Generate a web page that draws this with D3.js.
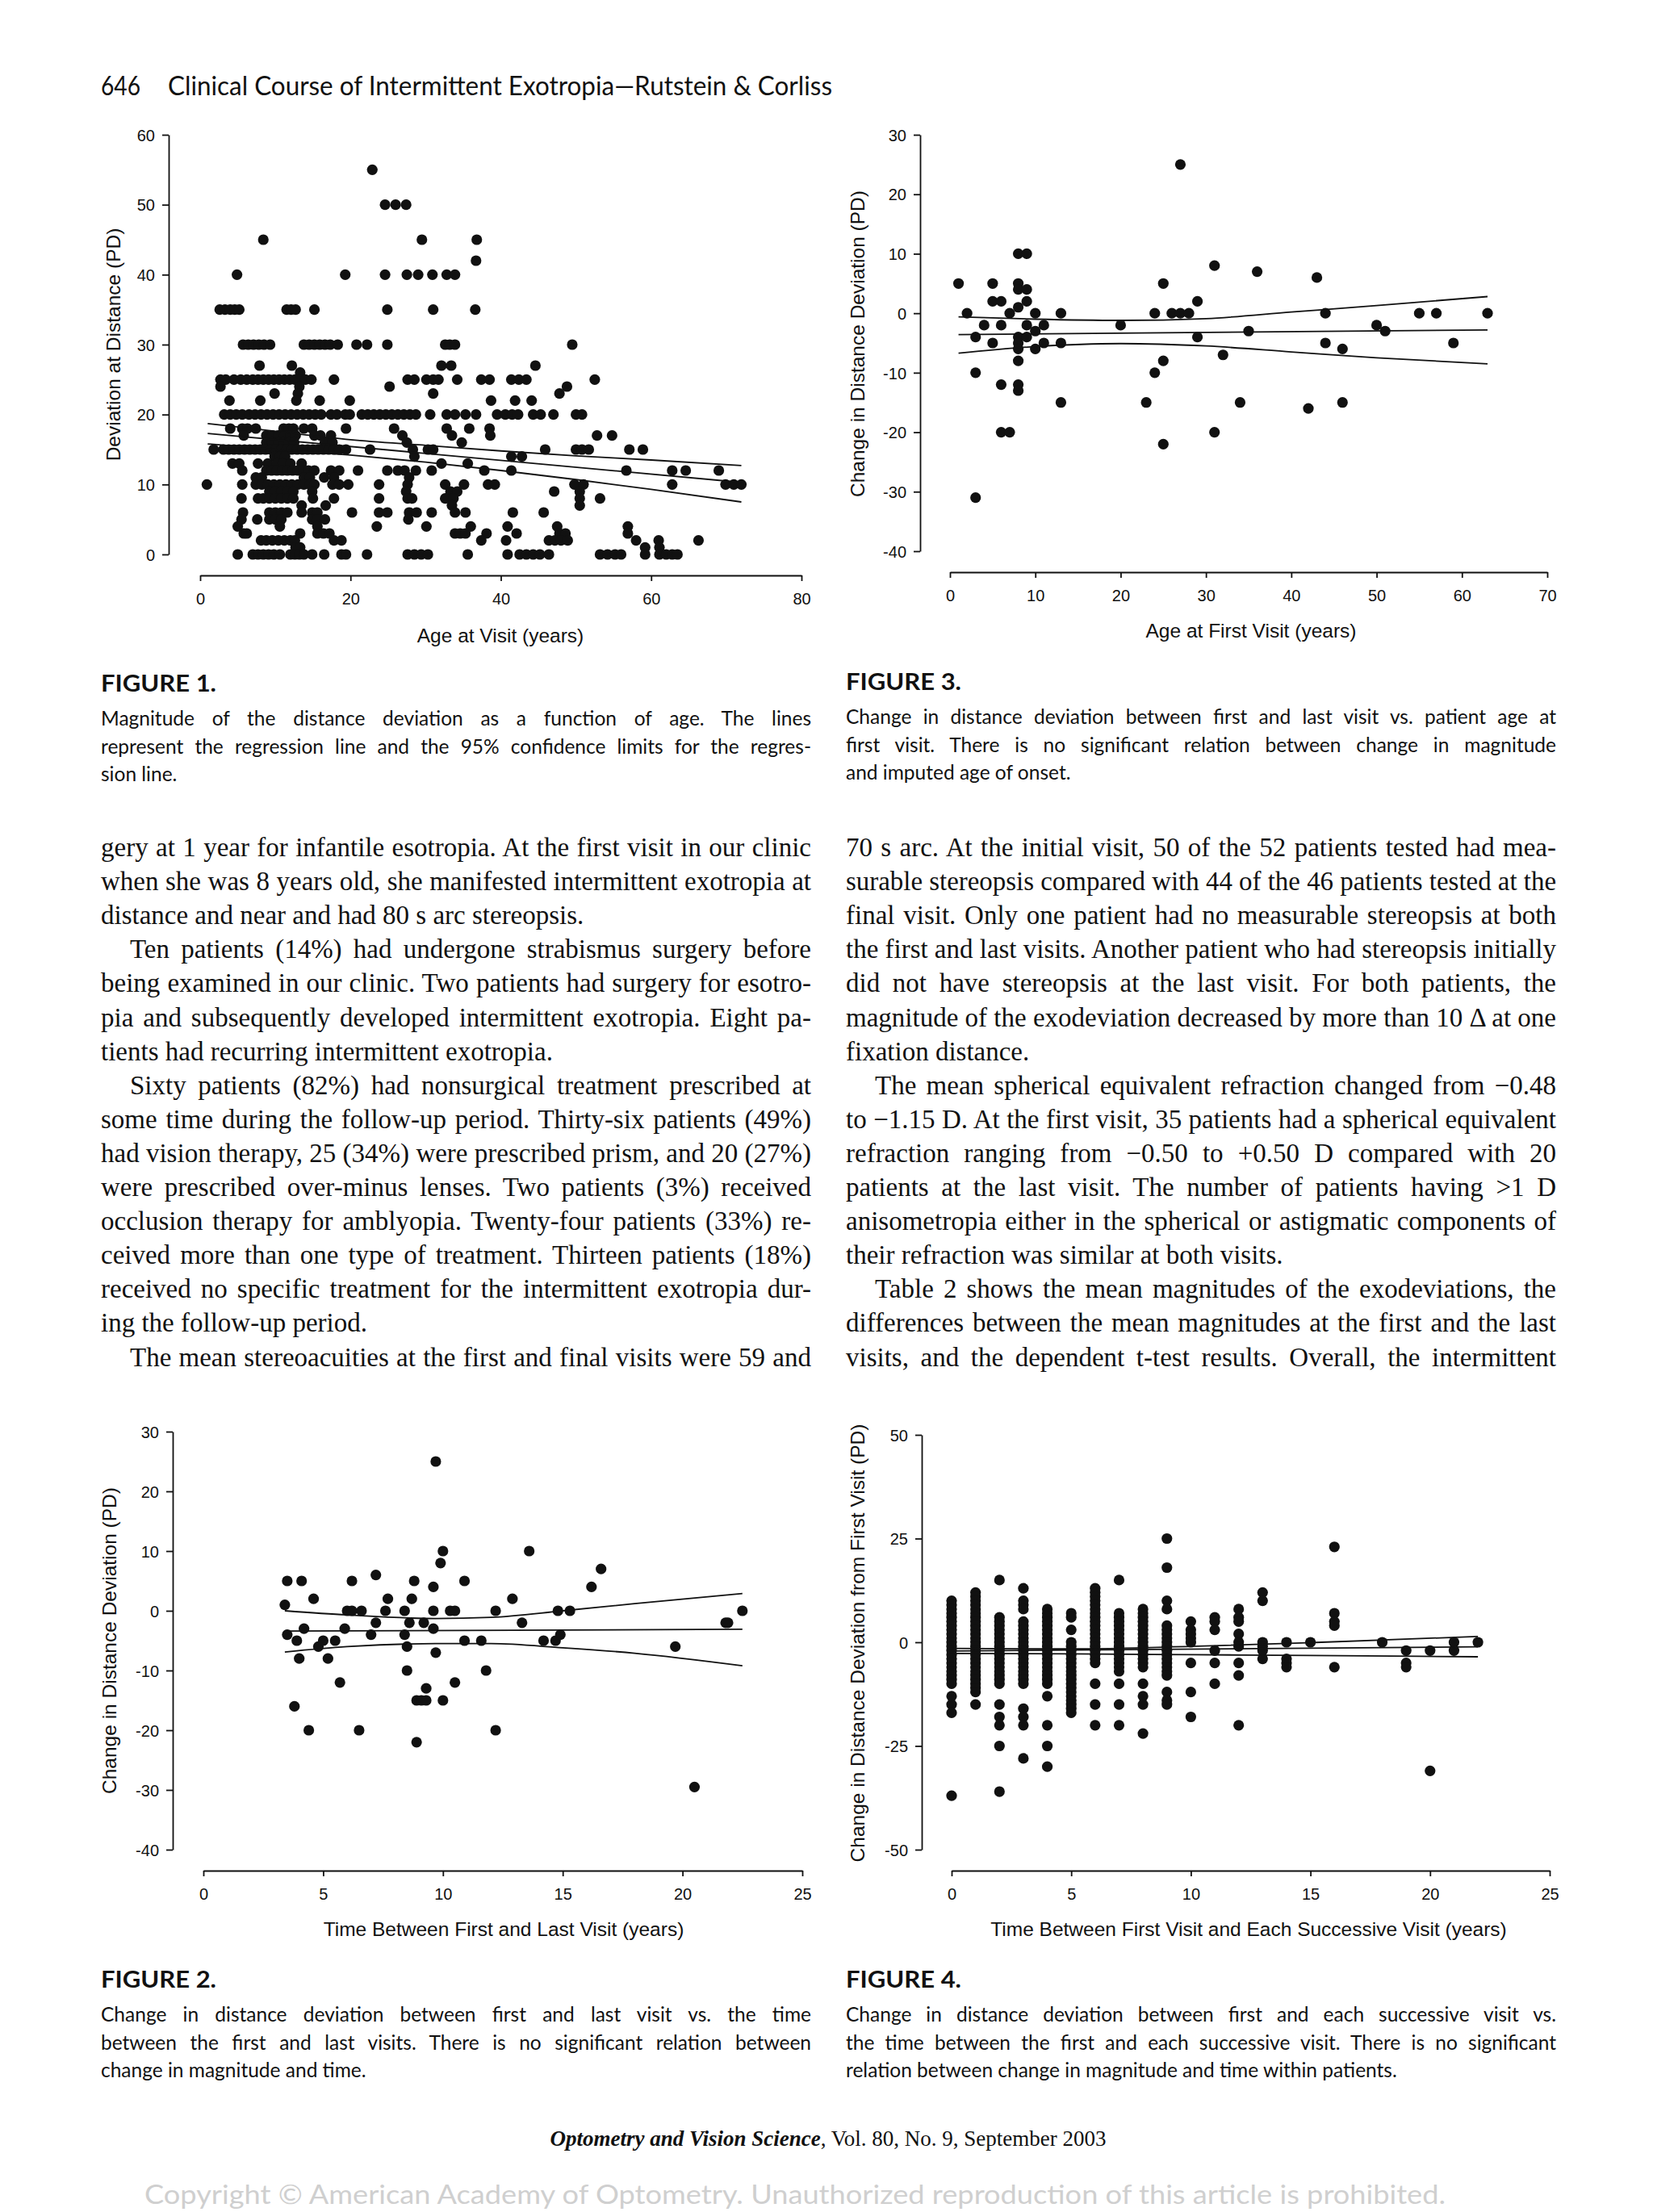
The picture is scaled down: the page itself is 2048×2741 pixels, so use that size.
<!DOCTYPE html>
<html>
<head>
<meta charset="utf-8">
<script src="https://cdn.jsdelivr.net/npm/d3@7"></script>
<style>
  body { margin: 0; background: #fff; }
  svg { display: block; }
</style>
</head>
<body>
<script>
// ---------- DATA ----------

// Figure 1: deviation at distance (rows) and the ages at which each value shows up
const fig1Dev = [55, 50, 45, 42, 40, 35, 30, 27, 26, 25, 24, 23, 22, 20, 18, 17, 16, 15, 14, 13, 12, 11, 10, 9, 8, 7, 6, 5, 4, 3, 2, 1, 0];
const fig1Ages = [
  [22.9],
  [24.6, 26.0, 27.4],
  [8.4, 29.5, 36.8],
  [36.7],
  [4.9, 19.3, 24.6, 27.5, 29.0, 30.9, 32.8, 33.9],
  [2.6, 3.3, 4.0, 4.6, 5.2, 11.5, 12.1, 12.7, 15.2, 24.9, 31.0, 36.6],
  [5.7, 6.4, 7.1, 7.8, 8.5, 9.3, 13.8, 14.5, 15.2, 15.9, 16.6, 17.3, 18.3, 20.8, 22.2, 24.9, 32.6, 33.2, 33.9, 49.5],
  [7.9, 12.2, 32.1, 33.4, 44.6],
  [13.3],
  [2.7, 3.4, 4.5, 5.4, 6.2, 7.0, 7.7, 8.4, 9.1, 9.8, 10.5, 11.2, 11.9, 12.6, 13.3, 14.0, 14.8, 17.8, 27.6, 28.5, 30.1, 31.0, 31.7, 34.2, 37.4, 38.5, 41.4, 42.4, 43.4, 52.5],
  [2.7, 13.2, 25.2, 48.8],
  [9.9, 13.0, 31.0, 47.8],
  [3.9, 8.0, 12.8, 15.9, 19.9, 38.7, 41.9, 44.1],
  [3.2, 4.0, 4.8, 5.6, 6.5, 7.3, 8.1, 8.9, 9.7, 10.5, 11.3, 12.1, 12.9, 13.7, 14.5, 15.3, 16.1, 17.4, 18.2, 19.3, 19.9, 21.5, 22.3, 23.1, 23.9, 24.7, 25.5, 26.3, 27.1, 27.9, 28.7, 30.6, 32.8, 33.9, 35.3, 36.7, 39.5, 40.6, 41.5, 42.3, 44.3, 45.3, 47.0, 50.0, 50.8],
  [4.0, 5.6, 6.3, 7.4, 11.1, 11.8, 12.4, 13.8, 14.9, 19.4, 25.8, 32.8, 35.8, 38.5],
  [5.8, 8.8, 9.6, 10.4, 11.2, 12.0, 12.7, 15.2, 16.0, 17.4, 26.9, 33.5, 38.6, 52.8, 54.8],
  [8.8, 9.6, 10.4, 11.1, 11.8, 12.5, 16.6, 17.6, 27.5, 34.8],
  [1.8, 3.1, 3.8, 4.5, 5.2, 5.9, 6.6, 7.3, 8.0, 8.7, 9.4, 10.1, 10.8, 11.5, 12.2, 12.9, 13.6, 14.3, 15.0, 15.7, 16.4, 17.1, 17.8, 18.5, 19.4, 22.6, 28.3, 30.3, 31.0, 45.9, 50.0, 50.8, 51.7, 57.1, 58.9],
  [9.9, 10.6, 11.3, 28.5, 41.4, 42.8],
  [4.3, 5.2, 7.7, 9.0, 10.2, 11.0, 12.0, 13.5, 32.1, 35.6],
  [5.6, 8.8, 9.5, 10.2, 10.9, 11.6, 12.3, 13.0, 13.7, 14.4, 15.2, 17.4, 18.5, 21.0, 24.9, 26.3, 27.2, 28.7, 30.8, 37.8, 41.4, 56.7, 62.8, 64.6, 69.0],
  [7.4, 8.2, 13.8, 14.6, 16.5, 17.8, 27.8],
  [0.9, 5.6, 7.4, 8.2, 9.0, 9.8, 10.6, 11.4, 12.2, 13.0, 13.8, 14.6, 15.2, 17.6, 18.5, 19.7, 23.8, 27.6, 32.6, 35.1, 38.3, 39.2, 49.8, 51.0, 62.8, 69.9, 71.0, 72.0],
  [9.2, 10.0, 10.8, 11.6, 12.4, 14.9, 27.4, 33.3, 34.2, 47.1, 50.5],
  [5.5, 7.7, 8.4, 9.2, 10.0, 10.8, 11.6, 12.4, 15.0, 17.8, 23.8, 27.6, 28.2, 32.6, 33.7, 50.5, 53.2],
  [13.5, 16.7, 33.5, 50.5],
  [5.7, 9.2, 10.0, 10.8, 11.6, 13.5, 14.9, 15.6, 20.2, 23.8, 24.9, 27.8, 28.8, 30.8, 33.9, 35.3, 41.6, 45.7],
  [5.5, 7.6, 9.2, 10.0, 10.8, 14.9, 15.6, 16.6, 27.7],
  [5.0, 10.6, 15.6, 23.5, 30.1, 36.0, 40.9, 47.5, 56.9],
  [5.8, 6.2, 13.3, 15.6, 16.4, 17.2, 33.9, 34.6, 35.3, 38.1, 42.1, 47.8, 48.6, 56.9],
  [8.1, 8.8, 9.6, 10.4, 11.2, 12.0, 12.6, 17.8, 18.8, 37.4, 40.7, 46.4, 47.2, 48.0, 48.9, 58.0, 61.0, 66.3],
  [12.7, 13.3, 59.2, 61.1],
  [5.0, 7.0, 7.7, 8.4, 9.1, 9.8, 10.6, 12.0, 12.6, 13.2, 13.8, 14.9, 16.5, 18.8, 19.4, 22.2, 27.6, 28.5, 29.4, 30.3, 35.6, 40.9, 42.5, 43.4, 44.3, 45.2, 46.4, 53.2, 54.2, 55.2, 56.0, 59.2, 61.1, 62.0, 62.8, 63.5]
];
// regression line and 95% limits, [age, deviation]
const fig1Upper = [[1, 18.7], [10, 17.6], [20, 16.4], [30, 15.6], [40, 14.8], [50, 14.1], [60, 13.5], [72, 12.7]];
const fig1Fit = [[1, 17.3], [72, 10.3]];
const fig1Lower = [[1, 15.8], [10, 15.0], [20, 14.2], [30, 13.2], [40, 12.0], [50, 10.7], [60, 9.3], [72, 7.5]];

// Figure 3: age at first visit vs change
const fig3Age = [1, 2, 3, 3, 3, 4, 5, 5, 5, 6, 6, 6, 6, 7, 7, 8, 9, 8, 8, 9, 8, 9, 10, 9, 8, 8, 9, 8, 10, 11, 10, 11, 8, 8, 8, 13, 13, 13, 20, 23, 24, 24, 25, 25, 25, 26, 27, 27, 28, 29, 29, 31, 31, 32, 34, 35, 36, 42, 43, 44, 44, 46, 46, 50, 51, 55, 57, 59, 63];
const fig3Change = [5, 0, -4, -10, -31, -2, 5, 2, -5, 2, -2, -12, -20, 0, -20, 10, 10, 5, 4, 4, 1, 2, 0, -2, -4, -5, -4, -6, -3, -2, -6, -5, -8, -12, -13, 0, -5, -15, -2, -15, 0, -10, 5, -8, -22, 0, 25, 0, 0, 2, -4, 8, -20, -7, -15, -3, 7, -16, 6, 0, -5, -6, -15, -2, -3, 0, 0, -5, 0];
const fig3Upper = [[1, -0.6], [10, -1.0], [20, -1.2], [30, -0.9], [40, 0.2], [50, 1.3], [63, 2.8]];
const fig3Fit = [[1, -3.6], [63, -2.8]];
const fig3Lower = [[1, -6.7], [10, -5.6], [20, -5.1], [30, -5.5], [40, -6.5], [50, -7.5], [63, -8.5]];

// Figure 2: time between first and last visit vs change
const fig2Years = [3.4, 3.5, 3.5, 4.1, 3.9, 4.0, 4.2, 3.8, 4.4, 4.6, 4.8, 5.0, 5.5, 5.2, 5.7, 5.9, 6.0, 6.2, 6.6, 6.2, 6.5, 7.0, 7.2, 7.2, 7.7, 7.6, 8.4, 8.4, 8.5, 8.5, 8.6, 8.7, 8.8, 8.9, 8.9, 9.1, 9.3, 9.3, 9.2, 9.6, 9.6, 9.6, 9.7, 9.7, 9.9, 10.0, 10.0, 10.3, 10.5, 10.5, 10.9, 10.9, 11.6, 11.8, 12.2, 12.2, 12.9, 13.3, 13.6, 14.2, 14.7, 14.8, 14.9, 15.3, 16.2, 16.6, 19.7, 20.5, 21.8, 21.9, 22.5];
const fig2Change = [1, 5, -4, 5, -5, -8, -3, -16, -20, 2, -6, -5, -5, -8, -12, -3, 0, 0, 0, 5, -20, -4, 6, -2, 2, 0, 0, -4, -10, -6, -2, 2, 5, -22, -15, -15, -15, -13, -2, 0, 4, -3, -7, 25, 8, 10, -15, 0, 0, -12, 5, -5, -5, -10, 0, -20, 2, -2, 10, -5, -5, 0, -4, 0, 4, 7, -6, -29.5, -2, -2, 0];
const fig2Upper = [[3.4, 0.0], [6, -0.7], [9.7, -1.3], [12, -1.1], [15, 0.0], [18, 1.2], [22.5, 2.9]];
const fig2Fit = [[3.4, -3.4], [22.5, -3.1]];
const fig2Lower = [[3.4, -6.9], [6, -6.0], [9.7, -5.5], [12, -5.5], [15, -6.2], [18, -7.1], [22.5, -9.2]];

// Figure 4: years since first visit, and the changes seen at each one
const fig4Years = [0, 1, 2, 3, 4, 5, 6, 7, 8, 9, 10, 11, 12, 13, 14, 15, 16, 18, 19, 20, 21, 22];
const fig4Changes = [
  [10, 9, 8, 7, 6, 5, 4, 3, 2, 1, 0, -1, -2, -3, -4, -5, -6, -7, -8, -9, -10, -13, -15, -17, -37],
  [12, 11, 10, 9, 8, 7, 6, 5, 4, 3, 2, 1, 0, -1, -2, -3, -4, -5, -6, -7, -8, -9, -10, -11, -12, -15],
  [15, 6, 5, 4, 3, 2, 1, 0, -1, -2, -3, -4, -5, -6, -7, -8, -9, -10, -15, -18, -20, -25, -36],
  [13, 10, 9, 8, 5, 4, 3, 2, 1, 0, -1, -2, -3, -4, -5, -6, -7, -8, -9, -10, -16, -18, -20, -28],
  [8, 7, 6, 5, 4, 3, 2, 1, 0, -1, -2, -3, -4, -5, -6, -7, -8, -9, -10, -13, -20, -25, -30],
  [7, 6, 3, 0, -1, -2, -3, -4, -5, -6, -7, -8, -9, -10, -11, -12, -13, -14, -15, -16, -17],
  [13, 12, 11, 10, 9, 8, 7, 6, 5, 4, 3, 2, 1, 0, -1, -2, -3, -4, -5, -10, -15, -20],
  [15, 7, 6, 5, 4, 3, 2, 1, 0, -1, -2, -3, -4, -5, -6, -7, -10, -15, -20],
  [8, 7, 6, 5, 4, 3, 2, 1, 0, -1, -2, -3, -4, -5, -6, -10, -13, -15, -22],
  [25, 18, 10, 8, 4, 3, 2, 1, 0, -1, -2, -3, -4, -5, -6, -7, -8, -12, -14, -15],
  [5, 3, 2, 1, 0, -5, -12, -18],
  [6, 5, 3, -2, -5, -10],
  [8, 6, 5, 2, 0, -1, -5, -8, -20],
  [12, 10, 0, -1, -2, -4],
  [0, -4, -5, -6],
  [0],
  [23, 7, 5, 4, -6],
  [0],
  [-2, -5, -6],
  [-2, -31],
  [0, -2],
  [0]
];
const fig4Upper = [[0, -1.5], [5, -1.6], [10, -1.0], [15, -0.1], [22, 1.4]];
const fig4Fit = [[0, -2.1], [22, -1.1]];
const fig4Lower = [[0, -2.7], [5, -2.8], [10, -3.0], [15, -3.2], [22, -3.5]];

// tick values
const ticks1X = [0, 20, 40, 60, 80];
const ticks1Y = [0, 10, 20, 30, 40, 50, 60];
const ticks3X = [0, 10, 20, 30, 40, 50, 60, 70];
const ticks3Y = [-40, -30, -20, -10, 0, 10, 20, 30];
const ticks2X = [0, 5, 10, 15, 20, 25];
const ticks2Y = [-40, -30, -20, -10, 0, 10, 20, 30];
const ticks4X = [0, 5, 10, 15, 20, 25];
const ticks4Y = [-50, -25, 0, 25, 50];

// page text
const headerNum = "646";
const headerTitle = "Clinical Course of Intermittent Exotropia\u2014Rutstein & Corliss";
const cap1 = ["Magnitude of the distance deviation as a function of age. The lines",
  "represent the regression line and the 95% confidence limits for the regres-",
  "sion line."];
const cap3 = ["Change in distance deviation between first and last visit vs. patient age at",
  "first visit. There is no significant relation between change in magnitude",
  "and imputed age of onset."];
const cap2 = ["Change in distance deviation between first and last visit vs. the time",
  "between the first and last visits. There is no significant relation between",
  "change in magnitude and time."];
const cap4 = ["Change in distance deviation between first and each successive visit vs.",
  "the time between the first and each successive visit. There is no significant",
  "relation between change in magnitude and time within patients."];
// [text, indent, justified]
const bodyLeft = [
  ["gery at 1 year for infantile esotropia. At the first visit in our clinic", 0, 1],
  ["when she was 8 years old, she manifested intermittent exotropia at", 0, 1],
  ["distance and near and had 80 s arc stereopsis.", 0, 0],
  ["Ten patients (14%) had undergone strabismus surgery before", 1, 1],
  ["being examined in our clinic. Two patients had surgery for esotro-", 0, 1],
  ["pia and subsequently developed intermittent exotropia. Eight pa-", 0, 1],
  ["tients had recurring intermittent exotropia.", 0, 0],
  ["Sixty patients (82%) had nonsurgical treatment prescribed at", 1, 1],
  ["some time during the follow-up period. Thirty-six patients (49%)", 0, 1],
  ["had vision therapy, 25 (34%) were prescribed prism, and 20 (27%)", 0, 1],
  ["were prescribed over-minus lenses. Two patients (3%) received", 0, 1],
  ["occlusion therapy for amblyopia. Twenty-four patients (33%) re-", 0, 1],
  ["ceived more than one type of treatment. Thirteen patients (18%)", 0, 1],
  ["received no specific treatment for the intermittent exotropia dur-", 0, 1],
  ["ing the follow-up period.", 0, 0],
  ["The mean stereoacuities at the first and final visits were 59 and", 1, 1]
];
const bodyRight = [
  ["70 s arc. At the initial visit, 50 of the 52 patients tested had mea-", 0, 1],
  ["surable stereopsis compared with 44 of the 46 patients tested at the", 0, 1],
  ["final visit. Only one patient had no measurable stereopsis at both", 0, 1],
  ["the first and last visits. Another patient who had stereopsis initially", 0, 1],
  ["did not have stereopsis at the last visit. For both patients, the", 0, 1],
  ["magnitude of the exodeviation decreased by more than 10 \u0394 at one", 0, 1],
  ["fixation distance.", 0, 0],
  ["The mean spherical equivalent refraction changed from \u22120.48", 1, 1],
  ["to \u22121.15 D. At the first visit, 35 patients had a spherical equivalent", 0, 1],
  ["refraction ranging from \u22120.50 to +0.50 D compared with 20", 0, 1],
  ["patients at the last visit. The number of patients having >1 D", 0, 1],
  ["anisometropia either in the spherical or astigmatic components of", 0, 1],
  ["their refraction was similar at both visits.", 0, 0],
  ["Table 2 shows the mean magnitudes of the exodeviations, the", 1, 1],
  ["differences between the mean magnitudes at the first and the last", 0, 1],
  ["visits, and the dependent t-test results. Overall, the intermittent", 0, 1]
];

// ---------- DRAWING ----------
const W = 2048, H = 2741;
const INK = "#111";
const SANS = "'Liberation Sans', Arial, sans-serif";
const CAPTION = "Lato, 'Open Sans', sans-serif";
const SERIF = "'Liberation Serif', 'Times New Roman', serif";

const svg = d3.select("body").append("svg")
    .attr("width", W)
    .attr("height", H);

svg.append("rect").attr("width", W).attr("height", H).attr("fill", "#fff");

// one line of text; justified lines are stretched with word spacing
function textLine(x, y, str, width, font, size, justify, weight, style) {
    const t = svg.append("text")
        .attr("x", x).attr("y", y)
        .attr("font-family", font)
        .attr("font-size", size)
        .attr("fill", INK)
        .text(str);
    if (weight) t.attr("font-weight", weight);
    if (style) t.attr("font-style", style);
    const natural = t.node().getComputedTextLength();
    const gaps = (str.match(/ /g) || []).length;
    if (justify && natural < width && gaps > 0) {
        t.attr("word-spacing", (width - natural) / gaps);
    } else if (natural > width) {
        t.attr("textLength", width).attr("lengthAdjust", "spacingAndGlyphs");
    }
    return t;
}

function scatter(cfg) {
    const g = svg.append("g");
    const x = d3.scaleLinear().domain(cfg.xDomain).range(cfg.xRange);
    const y = d3.scaleLinear().domain(cfg.yDomain).range(cfg.yRange);

    // y axis, detached from x axis like the SigmaPlot originals
    const gy = g.append("g")
        .attr("transform", `translate(${cfg.yAxisX},0)`)
        .call(d3.axisLeft(y).tickValues(cfg.yTicks).tickSize(8).tickSizeOuter(0).tickFormat(d => String(d)));
    gy.select(".domain").attr("stroke", INK).attr("stroke-width", 1.8);
    gy.selectAll(".tick line").attr("stroke", INK).attr("stroke-width", 1.8);
    gy.selectAll(".tick text")
        .attr("x", -17).attr("dy", "0.36em")
        .attr("fill", INK)
        .attr("font-family", SANS).attr("font-size", 20);

    const gx = g.append("g")
        .attr("transform", `translate(0,${cfg.xAxisY})`)
        .call(d3.axisBottom(x).tickValues(cfg.xTicks).tickSize(7).tickSizeOuter(0).tickFormat(d => String(d)));
    gx.select(".domain").attr("stroke", INK).attr("stroke-width", 2);
    gx.selectAll(".tick line").attr("stroke", INK).attr("stroke-width", 1.8);
    gx.selectAll(".tick text")
        .attr("y", 36).attr("dy", 0)
        .attr("fill", INK)
        .attr("font-family", SANS).attr("font-size", 20);

    // dots
    g.append("g").selectAll("circle")
        .data(cfg.points)
        .join("circle")
        .attr("cx", d => x(d.x))
        .attr("cy", d => y(d.y))
        .attr("r", 6.6)
        .attr("fill", INK);

    // regression line and confidence limits
    const line = d3.line()
        .x(d => x(d[0]))
        .y(d => y(d[1]))
        .curve(d3.curveMonotoneX);
    cfg.curves.forEach(c => {
        g.append("path")
            .datum(c)
            .attr("fill", "none")
            .attr("stroke", INK)
            .attr("stroke-width", 1.8)
            .attr("d", line);
    });

    // axis titles
    g.append("text")
        .attr("x", cfg.xTitlePos[0]).attr("y", cfg.xTitlePos[1])
        .attr("text-anchor", "middle")
        .attr("font-family", SANS).attr("font-size", 24.5)
        .attr("fill", INK)
        .text(cfg.xTitle);
    g.append("text")
        .attr("transform", `translate(${cfg.yTitlePos[0]},${cfg.yTitlePos[1]}) rotate(-90)`)
        .attr("text-anchor", "middle")
        .attr("font-family", SANS).attr("font-size", 24.5)
        .attr("fill", INK)
        .text(cfg.yTitle);
}

// Figure 1
scatter({
    xDomain: [0, 80], xRange: [248, 993],
    yDomain: [0, 60], yRange: [687, 167],
    yAxisX: 209, xAxisY: 713,
    xTicks: ticks1X, yTicks: ticks1Y,
    points: fig1Dev.flatMap((dev, i) => fig1Ages[i].map(a => ({x: a, y: dev}))),
    curves: [fig1Upper, fig1Fit, fig1Lower],
    xTitle: "Age at Visit (years)", xTitlePos: [620, 796],
    yTitle: "Deviation at Distance (PD)", yTitlePos: [149, 427]
});

// Figure 3
scatter({
    xDomain: [0, 70], xRange: [1177, 1917],
    yDomain: [-40, 30], yRange: [683, 167],
    yAxisX: 1140, xAxisY: 709,
    xTicks: ticks3X, yTicks: ticks3Y,
    points: fig3Age.map((a, i) => ({x: a, y: fig3Change[i]})),
    curves: [fig3Upper, fig3Fit, fig3Lower],
    xTitle: "Age at First Visit (years)", xTitlePos: [1550, 790],
    yTitle: "Change in Distance Deviation (PD)", yTitlePos: [1071, 426]
});

// Figure 2
scatter({
    xDomain: [0, 25], xRange: [252, 994],
    yDomain: [-40, 30], yRange: [2292, 1774],
    yAxisX: 214, xAxisY: 2318,
    xTicks: ticks2X, yTicks: ticks2Y,
    points: fig2Years.map((t, i) => ({x: t, y: fig2Change[i]})),
    curves: [fig2Upper, fig2Fit, fig2Lower],
    xTitle: "Time Between First and Last Visit (years)", xTitlePos: [624, 2399],
    yTitle: "Change in Distance Deviation (PD)", yTitlePos: [144, 2033]
});

// Figure 4
scatter({
    xDomain: [0, 25], xRange: [1179, 1920],
    yDomain: [-50, 50], yRange: [2292, 1778],
    yAxisX: 1142, xAxisY: 2318,
    xTicks: ticks4X, yTicks: ticks4Y,
    points: fig4Years.flatMap((t, i) => fig4Changes[i].map(c => ({x: t, y: c}))),
    curves: [fig4Upper, fig4Fit, fig4Lower],
    xTitle: "Time Between First Visit and Each Successive Visit (years)", xTitlePos: [1547, 2399],
    yTitle: "Change in Distance Deviation from First Visit (PD)", yTitlePos: [1071, 2036]
});

// running head
svg.append("text").attr("x", 125).attr("y", 118)
    .attr("font-family", CAPTION).attr("font-size", 33).attr("fill", INK)
    .attr("textLength", 49).attr("lengthAdjust", "spacingAndGlyphs")
    .text(headerNum);
svg.append("text").attr("x", 208).attr("y", 118)
    .attr("font-family", CAPTION).attr("font-size", 33).attr("fill", INK)
    .attr("textLength", 823).attr("lengthAdjust", "spacingAndGlyphs")
    .text(headerTitle);

// figure labels and captions
const colL = 125, colR = 1048, colW = 880;
function caption(x, labelY, label, lines) {
    svg.append("text").attr("x", x).attr("y", labelY)
        .attr("font-family", CAPTION).attr("font-size", 29)
        .attr("font-weight", 700).attr("fill", INK)
        .attr("textLength", 143).attr("lengthAdjust", "spacingAndGlyphs")
        .text(label);
    lines.forEach((s, i) => {
        textLine(x, labelY + 42 + i * 34.5, s, colW, CAPTION, 24.5, i < lines.length - 1);
    });
}
caption(colL, 857, "FIGURE 1.", cap1);
caption(colR, 855, "FIGURE 3.", cap3);
caption(colL, 2463, "FIGURE 2.", cap2);
caption(colR, 2463, "FIGURE 4.", cap4);

// body text columns
function column(x, lines) {
    lines.forEach((l, i) => {
        const ind = l[1] ? 36 : 0;
        textLine(x + ind, 1061 + i * 42.1, l[0], colW - ind, SERIF, 33, l[2] === 1);
    });
}
column(colL, bodyLeft);
column(colR, bodyRight);

// journal footer
const foot = svg.append("text")
    .attr("x", 1026).attr("y", 2659)
    .attr("text-anchor", "middle")
    .attr("font-family", SERIF).attr("font-size", 27)
    .attr("fill", INK);
foot.append("tspan").attr("font-weight", 700).attr("font-style", "italic").text("Optometry and Vision Science");
foot.append("tspan").text(", Vol. 80, No. 9, September 2003");

// copyright strip at the very bottom of the page
svg.append("text")
    .attr("x", 179).attr("y", 2731)
    .attr("font-family", CAPTION).attr("font-size", 33)
    .attr("fill", "#cfcfcf")
    .attr("textLength", 1612).attr("lengthAdjust", "spacingAndGlyphs")
    .text("Copyright \u00A9 American Academy of Optometry. Unauthorized reproduction of this article is prohibited.");
</script>
</body>
</html>
